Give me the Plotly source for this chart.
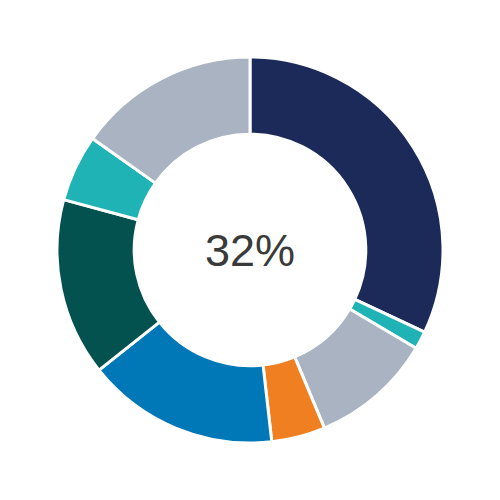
import plotly.graph_objects as go

labels = ["A", "B", "C", "D", "E", "F", "G", "H"]
values = [32.0, 1.5, 10.2, 4.5, 16.1, 14.9, 5.6, 15.2]
colors = ["#1C2A5A", "#1FB3B6", "#A9B3C1", "#F07F22", "#0077B6", "#03524F", "#1FB3B6", "#A9B3C1"]
center_text = "32%"

fig = go.Figure(go.Pie(
    labels=labels,
    values=values,
    hole=0.6,
    sort=False,
    direction="clockwise",
    rotation=0,
    marker=dict(colors=colors, line=dict(color="white", width=3)),
    textinfo="none",
    hoverinfo="none",
    showlegend=False,
))
fig.add_annotation(text=center_text, x=0.5, y=0.5, xref="paper", yref="paper",
                   showarrow=False, font=dict(family="Liberation Sans, Arial", size=45, color="#3A3A3A"))
fig.update_layout(width=500, height=500, margin=dict(l=49, r=65, t=49, b=65),
                  paper_bgcolor="white", plot_bgcolor="white")
fig.write_html("out.html")
